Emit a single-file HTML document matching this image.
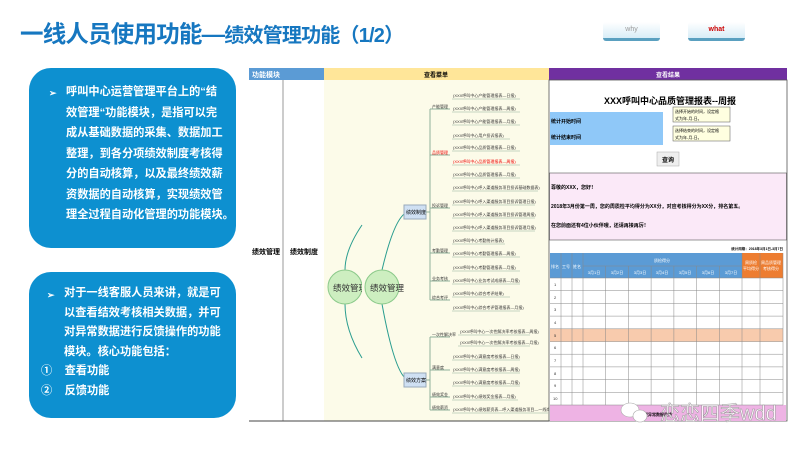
<!DOCTYPE html>
<html><head><meta charset="utf-8"><style>
body{margin:0;width:800px;height:450px;background:#fff;position:relative;overflow:hidden;font-family:"Liberation Sans","Noto Sans CJK SC",sans-serif}
.a{position:absolute}
.title{left:20px;top:15px;font-size:23.5px;font-weight:bold;color:#1677c0;letter-spacing:-0.8px}
.title span{font-size:20px}
.btn{top:22px;width:57px;height:16px;background:linear-gradient(#fff,#d8edf7);border-bottom:3px solid #5aa0c0;border-radius:3px;font-size:7px;text-align:center;line-height:15px}
.box{left:29px;width:207px;background:#0d90d0;border-radius:22px;color:#fff;font-weight:bold;font-size:11.2px;line-height:20.5px;white-space:nowrap}
</style></head><body>
<div class="a title">一线人员使用功能—<span>绩效管理功能（1/2）</span></div>
<div class="a btn" style="left:603px;color:#999">why</div>
<div class="a btn" style="left:688px;color:#c00;font-weight:bold">what</div>

<div class="a box" style="top:68px;height:180px">
<div style="position:absolute;left:20px;top:15px;font-size:9px">➢</div>
<div style="position:absolute;left:37px;top:14px">呼叫中心运营管理平台上的“结<br>效管理“功能模块，是指可以完<br>成从基础数据的采集、数据加工<br>整理，到各分项绩效制度考核得<br>分的自动核算，以及最终绩效薪<br>资数据的自动核算，实现绩效管<br>理全过程自动化管理的功能模块。</div>
</div>
<div class="a box" style="top:272px;height:146px;font-size:11.2px;line-height:19.5px">
<div style="position:absolute;left:18px;top:14px;font-size:9px">➢</div>
<div style="position:absolute;left:35px;top:12px">对于一线客服人员来讲，就是可<br>以查看结效考核相关数据，并可<br>对异常数据进行反馈操作的功能<br>模块。核心功能包括：</div>
<div style="position:absolute;left:12px;top:90px">①&nbsp;&nbsp;&nbsp;&nbsp;查看功能</div>
<div style="position:absolute;left:12px;top:110px">②&nbsp;&nbsp;&nbsp;&nbsp;反馈功能</div>
</div>

<svg class="a" style="left:0;top:0" width="800" height="450" font-family="Liberation Sans,Noto Sans CJK SC,sans-serif">
<defs><clipPath id="c1"><rect x="320" y="260" width="42" height="60"/></clipPath></defs>
<rect x="249" y="68" width="75" height="12" fill="#5b9bd5"/>
<text x="252" y="77" font-size="7" fill="#fff" font-weight="bold">功能模块</text>
<rect x="324" y="68" width="225" height="12" fill="#ffe699"/>
<text x="436" y="77" font-size="6" text-anchor="middle" font-weight="bold">查看菜单</text>
<rect x="549" y="68" width="238" height="12" fill="#7030a0"/>
<text x="668" y="77" font-size="6" text-anchor="middle" fill="#fff" font-weight="bold">查看结果</text>
<rect x="324" y="80" width="225" height="341" fill="#fcfbe9"/>
<line x1="283" y1="80" x2="283" y2="421" stroke="#999" stroke-width="1"/>
<line x1="249" y1="421" x2="549" y2="421" stroke="#444"/>
<text x="252" y="254" font-size="7" font-weight="bold">绩效管理</text>
<text x="290" y="254" font-size="7" font-weight="bold">绩效制度</text>
<path d="M362 225 Q345 250 345 270 M345 304 Q345 330 362 358" stroke="#2a9d8f" fill="none"/>
<path d="M382 270 Q395 215 408 212 M382 304 Q395 375 408 380" stroke="#2a9d8f" fill="none"/>
<circle cx="345" cy="287" r="17" fill="#cdeec0" stroke="#8bc98a" clip-path="url(#c1)"/>
<text x="333" y="291" font-size="8.5" fill="#333" clip-path="url(#c1)">绩效管理</text>
<circle cx="382" cy="287" r="17" fill="#cdeec0" stroke="#8bc98a"/>
<text x="370" y="291" font-size="8.5" fill="#333">绩效管理</text>
<rect x="404" y="205" width="22" height="14" fill="#cfe0f3" stroke="#9ab"/>
<text x="406" y="214" font-size="5">绩效制度</text>
<rect x="404" y="373" width="22" height="14" fill="#cfe0f3" stroke="#9ab"/>
<text x="406" y="382" font-size="5">绩效方案</text>
<g stroke="#8fb09a" fill="none">
<path d="M426 212 L430 212 M430 109 L430 300 M430 109 L450 109 M430 155 L450 155 M430 208 L450 208 M430 253 L450 253 M430 281 L450 281 M430 300 L450 300"/>
<path d="M426 380 L430 380 M430 337 L430 410 M430 337 L450 337 M430 370 L450 370 M430 397 L450 397 M430 410 L450 410"/>
</g>
<g font-size="4" fill="#333">
<text x="432" y="108">产能管理</text><text x="432" y="154" fill="#e00">品质管理</text><text x="432" y="207">投诉管理</text><text x="432" y="252">考勤管理</text><text x="432" y="280">业务考核</text><text x="432" y="299">综合考评</text>
<text x="432" y="336">一次性解决率</text><text x="432" y="369">满意度</text><text x="432" y="396">绩效奖金</text><text x="432" y="409">绩效薪资</text>
</g>
<g font-size="4" fill="#333">
<text x="453" y="97">(XXX呼叫中心产能管理报表—日报)</text>
<text x="453" y="110">(XXX呼叫中心产能管理报表—周报)</text>
<text x="453" y="123">(XXX呼叫中心产能管理报表—月报)</text>
<text x="453" y="137">(XXX呼叫中心用户投诉报表)</text>
<text x="453" y="149">(XXX呼叫中心品质管理报表—日报)</text>
<text x="453" y="163" fill="#e00">(XXX呼叫中心品质管理报表—周报)</text>
<text x="453" y="176">(XXX呼叫中心品质管理报表—月报)</text>
<text x="453" y="189">(XXX呼叫中心呼入渠道服务项目投诉基础数据表)</text>
<text x="453" y="203">(XXX呼叫中心呼入渠道服务项目投诉管理日报)</text>
<text x="453" y="216">(XXX呼叫中心呼入渠道服务项目投诉管理周报)</text>
<text x="453" y="229">(XXX呼叫中心呼入渠道服务项目投诉管理月报)</text>
<text x="453" y="242">(XXX呼叫中心考勤统计报表)</text>
<text x="453" y="255">(XXX呼叫中心考勤管理报表—周报)</text>
<text x="453" y="269">(XXX呼叫中心考勤管理报表—月报)</text>
<text x="453" y="282">(XXX呼叫中心业务考试成绩表—月报)</text>
<text x="453" y="295">(XXX呼叫中心综合考评结果)</text>
<text x="453" y="309">(XXX呼叫中心综合考评管理报表—月报)</text>
<text x="460" y="333">(XXX呼叫中心一次性解决率考核报表—周报)</text>
<text x="460" y="344">(XXX呼叫中心一次性解决率考核报表—月报)</text>
<text x="453" y="358">(XXX呼叫中心满意度考核报表—日报)</text>
<text x="453" y="371">(XXX呼叫中心满意度考核报表—周报)</text>
<text x="453" y="384">(XXX呼叫中心满意度考核报表—月报)</text>
<text x="453" y="398">(XXX呼叫中心绩效奖金报表—月报)</text>
<text x="453" y="411">(XXX呼叫中心绩效薪资表—呼入渠道服务项目—一线岗位)</text>
</g>
<g stroke="#8fb09a" stroke-width="0.6">
<line x1="452" y1="99" x2="520" y2="99"/><line x1="452" y1="112" x2="520" y2="112"/><line x1="452" y1="125" x2="520" y2="125"/><line x1="452" y1="139" x2="510" y2="139"/><line x1="452" y1="151" x2="520" y2="151"/><line x1="452" y1="165" x2="520" y2="165"/><line x1="452" y1="178" x2="520" y2="178"/><line x1="452" y1="191" x2="538" y2="191"/><line x1="452" y1="205" x2="535" y2="205"/><line x1="452" y1="218" x2="535" y2="218"/><line x1="452" y1="231" x2="535" y2="231"/><line x1="452" y1="244" x2="505" y2="244"/><line x1="452" y1="257" x2="520" y2="257"/><line x1="452" y1="271" x2="520" y2="271"/><line x1="452" y1="284" x2="520" y2="284"/><line x1="452" y1="297" x2="510" y2="297"/><line x1="452" y1="311" x2="520" y2="311"/>
<line x1="458" y1="335" x2="530" y2="335"/><line x1="458" y1="346" x2="530" y2="346"/><line x1="452" y1="360" x2="520" y2="360"/><line x1="452" y1="373" x2="520" y2="373"/><line x1="452" y1="386" x2="520" y2="386"/><line x1="452" y1="400" x2="518" y2="400"/><line x1="452" y1="413" x2="548" y2="413"/>
</g>
<rect x="549" y="80" width="238" height="341" fill="#fff" stroke="#555" stroke-width="0.8"/>
<text x="670" y="104" font-size="9" font-weight="bold" text-anchor="middle">XXX呼叫中心品质管理报表--周报</text>
<rect x="550" y="112" width="113" height="33" fill="#8fc8f8"/>
<text x="551" y="123" font-size="5" font-weight="bold">统计开始时间</text>
<text x="551" y="139" font-size="5" font-weight="bold">统计结束时间</text>
<rect x="673" y="107" width="57" height="15" fill="#ffffe0" stroke="#555" stroke-width="0.5"/>
<rect x="673" y="126" width="57" height="15" fill="#ffffe0" stroke="#555" stroke-width="0.5"/>
<text x="675" y="113" font-size="4">选择开始的时间，设定格</text><text x="675" y="120" font-size="4">式为年-月-日。</text>
<text x="675" y="132" font-size="4">选择结束的时间，设定格</text><text x="675" y="139" font-size="4">式为年-月-日。</text>
<rect x="657" y="152" width="22" height="14" fill="#eee" stroke="#aaa" stroke-width="0.5"/>
<text x="668" y="162" font-size="6" font-weight="bold" text-anchor="middle">查询</text>
<rect x="549.5" y="173" width="237" height="67" fill="#fbe9f8" stroke="#555" stroke-width="0.6"/>
<text x="551" y="189" font-size="5" font-weight="bold">尊敬的XXX，您好！</text>
<text x="551" y="208" font-size="5" font-weight="bold">2018年3月份第一周，您的周质检平均得分为XX分，对应考核得分为XX分，排名第五。</text>
<text x="551" y="227" font-size="5" font-weight="bold">在您前面还有4位小伙伴哦，还请再接再厉！</text>
<text x="783" y="250" font-size="3.5" text-anchor="end" font-weight="bold">统计周期：2018年3月1日-3月7日</text>
<rect x="550" y="253" width="192" height="25" fill="#5b9bd5"/>
<rect x="742" y="253" width="41" height="25" fill="#ed7d31"/>
<rect x="550" y="329" width="233" height="12.7" fill="#f8cbad"/>
<rect x="550" y="405" width="236" height="16" fill="#eeb3e4"/>
<g stroke="#888" stroke-width="0.5">
<line x1="561" y1="253" x2="561" y2="405"/><line x1="572" y1="253" x2="572" y2="405"/><line x1="583" y1="253" x2="583" y2="405"/>
<line x1="605.7" y1="266" x2="605.7" y2="405"/><line x1="628.4" y1="266" x2="628.4" y2="405"/><line x1="651.1" y1="266" x2="651.1" y2="405"/><line x1="673.9" y1="266" x2="673.9" y2="405"/><line x1="696.6" y1="266" x2="696.6" y2="405"/><line x1="719.3" y1="266" x2="719.3" y2="405"/><line x1="742" y1="253" x2="742" y2="405"/><line x1="760" y1="253" x2="760" y2="405"/><line x1="783" y1="253" x2="783" y2="405"/>
<line x1="583" y1="266" x2="742" y2="266"/>
<line x1="550" y1="278" x2="783" y2="278"/><line x1="550" y1="290.7" x2="783" y2="290.7"/><line x1="550" y1="303.4" x2="783" y2="303.4"/><line x1="550" y1="316.1" x2="783" y2="316.1"/><line x1="550" y1="328.8" x2="783" y2="328.8"/><line x1="550" y1="341.5" x2="783" y2="341.5"/><line x1="550" y1="354.2" x2="783" y2="354.2"/><line x1="550" y1="366.9" x2="783" y2="366.9"/><line x1="550" y1="379.6" x2="783" y2="379.6"/><line x1="550" y1="392.3" x2="783" y2="392.3"/><line x1="550" y1="405" x2="783" y2="405"/>
</g>
<g font-size="4" fill="#fff" text-anchor="middle">
<text x="555" y="268">排名</text><text x="566" y="268">工号</text><text x="577" y="268">姓名</text><text x="662" y="262">质检得分</text>
<text x="594" y="274">3月1日</text><text x="617" y="274">3月2日</text><text x="640" y="274">3月3日</text><text x="662" y="274">3月4日</text><text x="685" y="274">3月5日</text><text x="708" y="274">3月6日</text><text x="731" y="274">3月7日</text>
<text x="751" y="264">周质检</text><text x="751" y="270">平均得分</text><text x="771" y="264">周品质管理</text><text x="771" y="270">考核得分</text>
</g>
<g font-size="4" fill="#333">
<text x="554" y="286">1</text><text x="554" y="299">2</text><text x="554" y="311">3</text><text x="554" y="324">4</text><text x="554" y="337">5</text><text x="554" y="349">6</text><text x="554" y="362">7</text><text x="554" y="375">8</text><text x="554" y="387">9</text><text x="553" y="400">10</text>
</g>
<text x="640" y="416" font-size="4" font-weight="bold">上述异常数据反馈</text>
<text x="660" y="420" font-size="20" fill="#fff" fill-opacity="0.85" stroke="#999" stroke-width="0.5">恋恋四季wdd</text>
<ellipse cx="630" cy="410" rx="9" ry="7" fill="#fff" stroke="#aaa" stroke-width="0.6"/>
<ellipse cx="640" cy="416" rx="7" ry="6" fill="#fff" stroke="#aaa" stroke-width="0.6"/>
</svg>
</body></html>
